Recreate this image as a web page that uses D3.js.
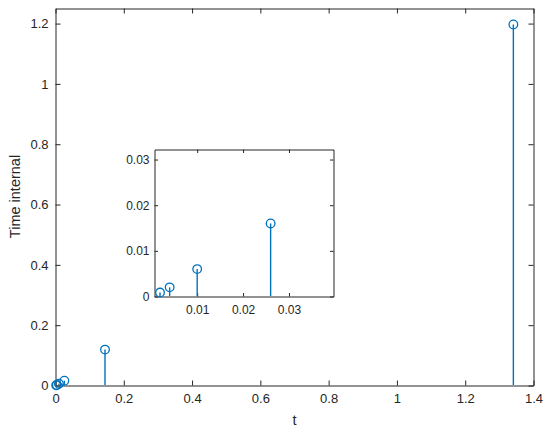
<!DOCTYPE html>
<html><head><meta charset="utf-8">
<script src="https://cdn.jsdelivr.net/npm/d3@7"></script>
<style>body{margin:0;background:#fff;} svg{display:block;} text{font-family:"Liberation Sans",Arial,sans-serif;fill:#262626;}</style>
</head><body>
<script>
const tValues = [0.0019, 0.004, 0.01, 0.026, 0.145, 1.341];
const intervals = [0.00087, 0.002, 0.006, 0.016, 0.119, 1.197];
const mainXTicks = [0, 0.2, 0.4, 0.6, 0.8, 1, 1.2, 1.4];
const mainYTicks = [0, 0.2, 0.4, 0.6, 0.8, 1, 1.2];
const insetXTicks = [0.01, 0.02, 0.03];
const insetYTicks = [0, 0.01, 0.02, 0.03];
const xLabel = "t", yLabel = "Time internal";

const W = 550, H = 436;
const blue = "#0072BD", axisCol = "#262626";
const svg = d3.select("body").append("svg").attr("width", W).attr("height", H);

function panel(x0, x1, y0, y1, xd, yd, xt, yt, fs, tickLen, padX, padY, pts) {
  const x = d3.scaleLinear().domain(xd).range([x0, x1]);
  const y = d3.scaleLinear().domain(yd).range([y1, y0]);
  const g = svg.append("g");
  g.append("rect").attr("x", x0).attr("y", y0).attr("width", x1 - x0).attr("height", y1 - y0).attr("fill", "#fff");
  const fmt = d => String(+d.toFixed(4));
  const ax = [
    [d3.axisBottom(x).tickValues(xt).tickSizeInner(-tickLen).tickSizeOuter(0).tickPadding(padX).tickFormat(fmt), `translate(0,${y1})`],
    [d3.axisTop(x).tickValues(xt).tickSizeInner(-tickLen).tickSizeOuter(0).tickFormat(""), `translate(0,${y0})`],
    [d3.axisLeft(y).tickValues(yt).tickSizeInner(-tickLen).tickSizeOuter(0).tickPadding(padY).tickFormat(fmt), `translate(${x0},0)`],
    [d3.axisRight(y).tickValues(yt).tickSizeInner(-tickLen).tickSizeOuter(0).tickFormat(""), `translate(${x1},0)`]
  ];
  const data = pts.filter(p => p[0] >= xd[0] && p[0] <= xd[1]);
  ax.forEach(([a, tr]) => {
    const s = g.append("g").attr("transform", tr).call(a);
    s.select(".domain").attr("stroke", axisCol).attr("stroke-width", 1);
    s.selectAll(".tick line").attr("stroke", axisCol);
    s.selectAll("text").style("font-size", fs + "px").attr("fill", axisCol);
  });
  g.append("g").selectAll("line").data(data).join("line")
    .attr("x1", d => x(d[0])).attr("x2", d => x(d[0]))
    .attr("y1", y(0) - 0.5).attr("y2", d => y(d[1]))
    .attr("stroke", blue).attr("stroke-width", 1.4);
  g.append("g").selectAll("circle").data(data).join("circle")
    .attr("cx", d => x(d[0])).attr("cy", d => y(d[1])).attr("r", 4.3)
    .attr("fill", "none").attr("stroke", blue).attr("stroke-width", 1.3);
  return {x, y, g};
}

const pts = tValues.map((t, i) => [t, intervals[i]]);
panel(55.5, 533.5, 8.5, 385.5, [0, 1.4], [0, 1.25], mainXTicks, mainYTicks, 13, 5, 8, 7, pts);
svg.append("text").attr("x", (55.5 + 533.5) / 2).attr("y", 425).attr("text-anchor", "middle").style("font-size", "14.5px").text(xLabel);
svg.append("text").attr("transform", "translate(20,196.5) rotate(-90)").attr("text-anchor", "middle").style("font-size", "14.5px").text(yLabel);

panel(154.5, 333.5, 149.5, 296.5, [0.0007, 0.0397], [0, 0.0322], insetXTicks, insetYTicks, 12, 3.5, 9, 5, pts.slice(0, 4));
</script>
</body></html>
